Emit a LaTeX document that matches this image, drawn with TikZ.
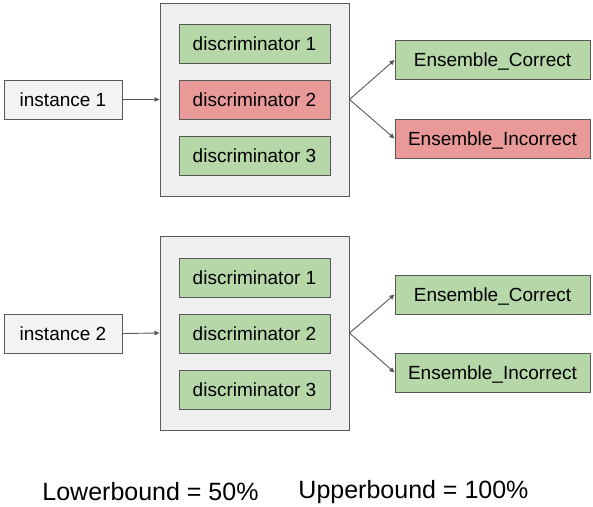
\documentclass[tikz,border=0pt]{standalone}
\usepackage{fontspec}
\setmainfont{Liberation Sans}
\usetikzlibrary{arrows.meta}
\definecolor{gbox}{HTML}{B6D7A8}
\definecolor{rbox}{HTML}{EA9999}
\definecolor{outerfill}{HTML}{EFEFEF}
\definecolor{instfill}{HTML}{F3F3F3}
\definecolor{edge}{HTML}{595959}
\tikzset{
  base/.style={draw=edge, line width=1pt, inner sep=0pt, font=\fontsize{19}{22}\selectfont, text=black, text height=13.6pt, text depth=0pt},
  outerbox/.style={base, fill=outerfill, minimum width=189pt, minimum height=193pt},
  disc/.style={base, fill=gbox, minimum width=151pt, minimum height=39pt},
  discr/.style={base, fill=rbox, minimum width=151pt, minimum height=39pt},
  inst/.style={base, fill=instfill, minimum width=118pt, minimum height=39pt},
  ens/.style={base, fill=gbox, minimum width=195pt, minimum height=39pt},
  ensr/.style={base, fill=rbox, minimum width=195pt, minimum height=39pt},
  conn/.style={draw=edge, line width=0.9pt, -{Triangle[length=5pt,width=4.5pt]}},
  bound/.style={inner sep=0pt, font=\fontsize{25}{28}\selectfont}
}
\begin{document}
\begin{tikzpicture}[x=1pt,y=-1pt]
\useasboundingbox (0,0) rectangle (593,506);
% top
\node[outerbox] (o1) at (254.5,99.5) {};
\node[disc] (a1) at (254.5,43.5) {discriminator 1};
\node[discr] (a2) at (254.5,99.5) {discriminator 2};
\node[disc] (a3) at (254.5,155.5) {discriminator 3};
\node[inst] (i1) at (63,99.5) {instance 1};
\node[ens] (c1) at (492.5,60) {Ensemble\_Correct};
\node[ensr] (e1) at (492.5,138.5) {Ensemble\_Incorrect};
\draw[conn] (i1.east) -- (o1.west);
\draw[conn] (o1.east) -- (c1.west);
\draw[conn] (o1.east) -- (e1.west);
% bottom
\node[outerbox, minimum height=194pt] (o2) at (254.5,333) {};
\node[disc] (b1) at (254.5,277.5) {discriminator 1};
\node[disc] (b2) at (254.5,333.5) {discriminator 2};
\node[disc] (b3) at (254.5,389.5) {discriminator 3};
\node[inst] (i2) at (63,333.5) {instance 2};
\node[ens] (c2) at (492.5,294.5) {Ensemble\_Correct};
\node[ens] (e2) at (492.5,372.5) {Ensemble\_Incorrect};
\draw[conn] (i2.east) -- (o2.west);
\draw[conn] (o2.east) -- (c2.west);
\draw[conn] (o2.east) -- (e2.west);
% bounds
\node[bound] (lb) at (150.5,492) {Lowerbound = 50\%};
\node[bound] (ub) at (413.5,492) {Upperbound = 100\%};
\end{tikzpicture}
\end{document}
